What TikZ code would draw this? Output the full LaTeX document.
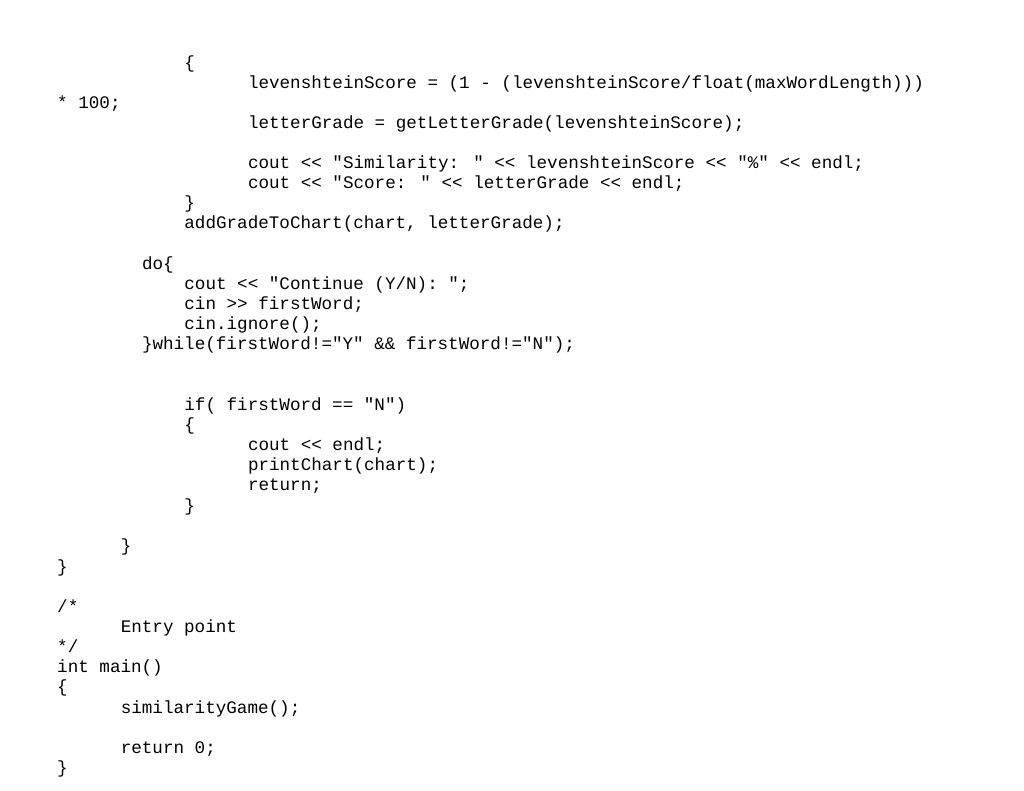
\documentclass[tikz,border=0pt]{standalone}
\usepackage{fontspec}
\newfontfamily\codefont{Liberation Mono}
\newcommand\codeline[4]{\node[codestyle] (#1) at ({57pt+#2*10.6pt},{-#3pt-6pt}) {#4};}
\tikzset{codestyle/.style={anchor=base west,inner sep=0pt,font=\codefont\fontsize{17.6pt}{20pt}\selectfont,text=black}}
\begin{document}
\begin{tikzpicture}
\useasboundingbox[fill=white] (0,0) rectangle (1024pt,-790pt);
\codeline{l1}{12}{62}{\{}
\codeline{l2}{18}{82}{levenshteinScore = (1 - (levenshteinScore/float(maxWordLength)))}
\codeline{l3}{0}{102}{* 100;}
\codeline{l4}{18}{122}{letterGrade = getLetterGrade(levenshteinScore);}
\codeline{l5}{18}{162}{cout << "Similarity: " << levenshteinScore << "\%" << endl;}
\codeline{l6}{18}{182}{cout << "Score: " << letterGrade << endl;}
\codeline{l7}{12}{202}{\}}
\codeline{l8}{12}{222}{addGradeToChart(chart, letterGrade);}
\codeline{l9}{8}{263}{do\{}
\codeline{l10}{12}{283}{cout << "Continue (Y/N): ";}
\codeline{l11}{12}{303}{cin >> firstWord;}
\codeline{l12}{12}{323}{cin.ignore();}
\codeline{l13}{8}{343}{\}while(firstWord!="Y" \&\& firstWord!="N");}
\codeline{l14}{12}{404}{if( firstWord == "N")}
\codeline{l15}{12}{424}{\{}
\codeline{l16}{18}{444}{cout << endl;}
\codeline{l17}{18}{464}{printChart(chart);}
\codeline{l18}{18}{484}{return;}
\codeline{l19}{12}{505}{\}}
\codeline{l20}{6}{545}{\}}
\codeline{l21}{0}{566}{\}}
\codeline{l22}{0}{606}{/*}
\codeline{l23}{6}{626}{Entry point}
\codeline{l24}{0}{646}{*/}
\codeline{l25}{0}{666}{int main()}
\codeline{l26}{0}{686}{\{}
\codeline{l27}{6}{707}{similarityGame();}
\codeline{l28}{6}{747}{return 0;}
\codeline{l29}{0}{767}{\}}
\end{tikzpicture}
\end{document}
